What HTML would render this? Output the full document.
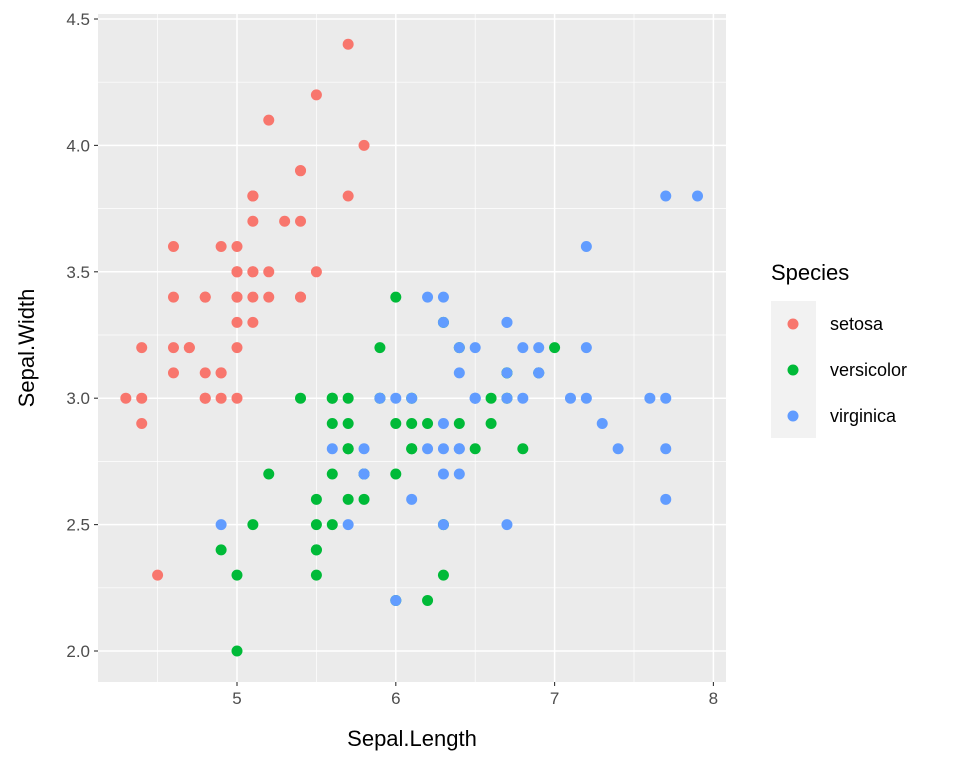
<!DOCTYPE html>
<html><head><meta charset="utf-8"><style>body{margin:0;background:#fff}svg{display:block;font-family:"Liberation Sans",sans-serif}</style></head>
<body>
<svg id="chart" width="960" height="768" xmlns="http://www.w3.org/2000/svg"></svg>
<script>
const setosaX=[5.1,4.9,4.7,4.6,5.0,5.4,4.6,5.0,4.4,4.9,5.4,4.8,4.8,4.3,5.8,5.7,5.4,5.1,5.7,5.1,5.4,5.1,4.6,5.1,4.8,5.0,5.0,5.2,5.2,4.7,4.8,5.4,5.2,5.5,4.9,5.0,5.5,4.9,4.4,5.1,5.0,4.5,4.4,5.0,5.1,4.8,5.1,4.6,5.3,5.0];
const setosaY=[3.5,3.0,3.2,3.1,3.6,3.9,3.4,3.4,2.9,3.1,3.7,3.4,3.0,3.0,4.0,4.4,3.9,3.5,3.8,3.8,3.4,3.7,3.6,3.3,3.4,3.0,3.4,3.5,3.4,3.2,3.1,3.4,4.1,4.2,3.1,3.2,3.5,3.6,3.0,3.4,3.5,2.3,3.2,3.5,3.8,3.0,3.8,3.2,3.7,3.3];
const versicolorX=[7.0,6.4,6.9,5.5,6.5,5.7,6.3,4.9,6.6,5.2,5.0,5.9,6.0,6.1,5.6,6.7,5.6,5.8,6.2,5.6,5.9,6.1,6.3,6.1,6.4,6.6,6.8,6.7,6.0,5.7,5.5,5.5,5.8,6.0,5.4,6.0,6.7,6.3,5.6,5.5,5.5,6.1,5.8,5.0,5.6,5.7,5.7,6.2,5.1,5.7];
const versicolorY=[3.2,3.2,3.1,2.3,2.8,2.8,3.3,2.4,2.9,2.7,2.0,3.0,2.2,2.9,2.9,3.1,3.0,2.7,2.2,2.5,3.2,2.8,2.5,2.8,2.9,3.0,2.8,3.0,2.9,2.6,2.4,2.4,2.7,2.7,3.0,3.4,3.1,2.3,3.0,2.5,2.6,3.0,2.6,2.3,2.7,3.0,2.9,2.9,2.5,2.8];
const virginicaX=[6.3,5.8,7.1,6.3,6.5,7.6,4.9,7.3,6.7,7.2,6.5,6.4,6.8,5.7,5.8,6.4,6.5,7.7,7.7,6.0,6.9,5.6,7.7,6.3,6.7,7.2,6.2,6.1,6.4,7.2,7.4,7.9,6.4,6.3,6.1,7.7,6.3,6.4,6.0,6.9,6.7,6.9,5.8,6.8,6.7,6.7,6.3,6.5,6.2,5.9];
const virginicaY=[3.3,2.7,3.0,2.9,3.0,3.0,2.5,2.9,2.5,3.6,3.2,2.7,3.0,2.5,2.8,3.2,3.0,3.8,2.6,2.2,3.2,2.8,2.8,2.7,3.3,3.2,2.8,3.0,2.8,3.0,2.8,3.8,2.8,2.8,2.6,3.0,3.4,3.1,3.0,3.1,3.1,3.1,2.7,3.2,3.3,3.0,2.5,3.0,3.4,3.0];
const xTicks=[5,6,7,8];
const yTicks=[2.0,2.5,3.0,3.5,4.0,4.5];
const xMinor=[4.5,5.5,6.5,7.5];
const yMinor=[2.25,2.75,3.25,3.75,4.25];

const NS="http://www.w3.org/2000/svg";
const svg=document.getElementById('chart');
const L=98,R=726,T=14,B=682;
const sx=v=>237+(v-5)*158.8;
const sy=v=>651-(v-2)*252.8;
function mk(tag,attrs,parent){const e=document.createElementNS(NS,tag);for(const k in attrs)e.setAttribute(k,attrs[k]);(parent||svg).appendChild(e);return e;}
const panel=mk('rect',{x:L,y:T,width:R-L,height:B-T,fill:'#ebebeb'});


const grid=mk('g',{});


xMinor.forEach(v=>mk('line',{x1:sx(v),x2:sx(v),y1:T,y2:B,stroke:'#fff','stroke-width':0.7},grid));
yMinor.forEach(v=>mk('line',{x1:L,x2:R,y1:sy(v),y2:sy(v),stroke:'#fff','stroke-width':0.7},grid));
xTicks.forEach(v=>mk('line',{x1:sx(v),x2:sx(v),y1:T,y2:B,stroke:'#fff','stroke-width':1.5},grid));
yTicks.forEach(v=>mk('line',{x1:L,x2:R,y1:sy(v),y2:sy(v),stroke:'#fff','stroke-width':1.5},grid));
xTicks.forEach(v=>{
  mk('line',{x1:sx(v),x2:sx(v),y1:B,y2:B+4,stroke:'#333','stroke-width':1.1});
  const t=mk('text',{x:sx(v),y:B+22,'text-anchor':'middle','font-size':17,fill:'#4d4d4d'});t.textContent=v;
  
  
});
yTicks.forEach(v=>{
  mk('line',{x1:L-4,x2:L,y1:sy(v),y2:sy(v),stroke:'#333','stroke-width':1.1});
  const t=mk('text',{x:L-8,y:sy(v)+6,'text-anchor':'end','font-size':17,fill:'#4d4d4d'});t.textContent=v.toFixed(1);
  
  
});
const series=[[setosaX,setosaY,'#F8766D','setosa'],[versicolorX,versicolorY,'#00BA38','versicolor'],[virginicaX,virginicaY,'#619CFF','virginica']];
series.forEach(([xs,ys,c,n])=>{
  const g=mk('g',{});
  
  
  xs.forEach((x,i)=>{
    const p=mk('circle',{cx:sx(x),cy:sy(ys[i]),r:5.5,fill:c},g);
    
    
  });
});
const xt=mk('text',{x:(L+R)/2,y:746,'text-anchor':'middle','font-size':22,fill:'#000'});xt.textContent='Sepal.Length';


const yt=mk('text',{x:0,y:0,'text-anchor':'middle','font-size':22,fill:'#000',transform:`translate(34,${(T+B)/2}) rotate(-90)`});yt.textContent='Sepal.Width';


const lg=mk('g',{});


const lt=mk('text',{x:771,y:280,'font-size':22,fill:'#000'},lg);lt.textContent='Species';


mk('rect',{x:771,y:301,width:45,height:137,fill:'#f2f2f2'},lg);
series.forEach(([xs,ys,c,n],i)=>{
  const cy=324+i*46;
  const e=mk('g',{},lg);
  
  
  mk('circle',{cx:793,cy:cy,r:5.5,fill:c},e);
  const t=mk('text',{x:830,y:cy+6,'font-size':18,fill:'#000'},e);t.textContent=n;
});
</script>
</body></html>
